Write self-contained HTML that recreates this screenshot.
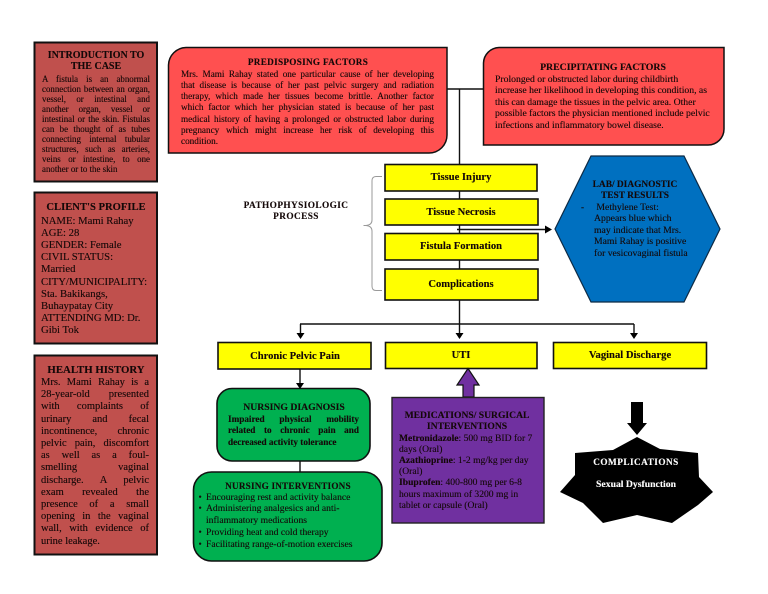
<!DOCTYPE html>
<html><head><meta charset="utf-8"><style>
html,body{margin:0;padding:0;background:#fff}
#p{position:relative;width:768px;height:594px;overflow:hidden;font-family:"Liberation Serif",serif;color:#140808;filter:blur(.35px)}
svg{position:absolute;left:0;top:0}
#t{position:absolute;left:0;top:1px;width:768px;height:594px;-webkit-text-stroke:.12px currentColor}
.b{position:absolute;font-size:9.2px}
.b div{white-space:nowrap}
.b div.j{white-space:normal;text-align:justify;text-align-last:justify}
.c{position:absolute;text-align:center;font-weight:bold;white-space:nowrap;transform:translateX(-50%);line-height:12px}
.y{font-size:10.6px}
</style></head><body><div id="p">
<svg width="768" height="594" fill="none" stroke="#000">
<g stroke="#111" stroke-width="1.5">
<rect x="34.5" y="42.5" width="122.5" height="139" fill="#C0504D" stroke-width="2"/>
<rect x="34.5" y="192.5" width="122.5" height="151" fill="#C0504D" stroke-width="2"/>
<rect x="34.5" y="355.5" width="122.5" height="199" fill="#C0504D" stroke-width="2"/>
<path d="M186 47.5H447V135A18 18 0 0 1 429 153H168.500V65A18 18 0 0 1 186 47.5Z" fill="#FF5050"/>
<path d="M499 47.500H724V129A16 16 0 0 1 708 145H483.500V63A16 16 0 0 1 499 47.500Z" fill="#FF5050"/>
</g>
<g stroke="#111" stroke-width="1.4">
<path d="M447 89H483M459.500 89V338M300 324H634M300.500 324V336M634 324V336M457 229.500H549M300 369V386"/>
<path d="M300 461V472"/>
</g>
<path d="M459.500 339l-4-6h8zM300.500 339l-4-6h8zM634 339l-4-6h8zM300 389l-4-6h8zM552 229.500l-7-4v8z" fill="#000" stroke="none"/>
<path d="M382 176.500H376Q372 176.500 372 181V220Q372 225 366 225.500H363.500M366 225.500Q372 226 372 231V286Q372 290.500 376 290.500H382" stroke="#999" stroke-width="1"/>
<g fill="#FFFF00" stroke="#111" stroke-width="1.6">
<rect x="385" y="164.500" width="152" height="26.500"/>
<rect x="385" y="199" width="153" height="26"/>
<rect x="385" y="233.500" width="153" height="26.500"/>
<rect x="385" y="269" width="153" height="31"/>
<rect x="218" y="342.500" width="153" height="26.500"/>
<rect x="385.500" y="342.500" width="151.500" height="26"/>
<rect x="553.500" y="342.500" width="153" height="26"/>
</g>
<path d="M591 156H684L720 229L684 302H591L555 229Z" fill="#0070C0" stroke="#0c2a45" stroke-width="1.200"/>
<rect x="217" y="388.500" width="153" height="72.500" rx="15" fill="#00B050" stroke="#111" stroke-width="1.600"/>
<rect x="193.500" y="472" width="188.500" height="89" rx="18" fill="#00B050" stroke="#111" stroke-width="1.600"/>
<path d="M468 368.500L479 385H474V397H463V385H457Z" fill="#7030A0" stroke="#111" stroke-width="1.200"/>
<rect x="392" y="397.500" width="152" height="125.500" fill="#7030A0" stroke="#222" stroke-width="1.400"/>
<path d="M631 402H643V423H647L637 435L627 423H631Z" fill="#000" stroke="none"/>
<path d="M637 437L660 449L698 453L699 477L713 492L698 505L672 523L637 515L603 523L583 503L560 492L575 475L575 453L613 450Z" fill="#000" stroke="none"/>
</svg>
<div id="t">
<div class="c" style="left:96px;top:48.500px;font-size:10px;line-height:11.5px">INTRODUCTION TO<br>THE CASE</div>
<div class="b" style="left:42px;top:73px;width:108px;line-height:10px;font-size:8.900px">
<div class="j">A fistula is an abnormal</div><div class="j">connection between an organ,</div><div class="j">vessel, or intestinal and</div><div class="j">another organ, vessel or</div><div class="j">intestinal or the skin. Fistulas</div><div class="j">can be thought of as tubes</div><div class="j">connecting internal tubular</div><div class="j">structures, such as arteries,</div><div class="j">veins or intestine, to one</div><div>another or to the skin</div></div>

<div class="c" style="left:96px;top:201px;font-size:10.600px">CLIENT'S PROFILE</div>
<div class="b" style="left:41px;top:213.500px;width:110px;line-height:12.200px;font-size:10.700px">
<div>NAME: Mami Rahay</div><div>AGE: 28</div><div>GENDER: Female</div><div>CIVIL STATUS:</div><div>Married</div><div>CITY/MUNICIPALITY:</div><div>Sta. Bakikangs,</div><div>Buhaypatay City</div><div>ATTENDING MD: Dr.</div><div>Gibi Tok</div></div>

<div class="c" style="left:96px;top:363px;font-size:10.800px">HEALTH HISTORY</div>
<div class="b" style="left:41px;top:376px;width:108px;line-height:12.200px;font-size:10.500px">
<div class="j">Mrs. Mami Rahay is a</div><div class="j">28-year-old presented</div><div class="j">with complaints of</div><div class="j">urinary and fecal</div><div class="j">incontinence, chronic</div><div class="j">pelvic pain, discomfort</div><div class="j">as well as a foul-</div><div class="j">smelling vaginal</div><div class="j">discharge. A pelvic</div><div class="j">exam revealed the</div><div class="j">presence of a small</div><div class="j">opening in the vaginal</div><div class="j">wall, with evidence of</div><div>urine leakage.</div></div>

<div class="c" style="left:308px;top:55px;font-size:9.200px;letter-spacing:.3px">PREDISPOSING FACTORS</div>
<div class="b" style="left:181px;top:67.500px;width:253px;line-height:11.300px">
<div class="j">Mrs. Mami Rahay stated one particular cause of her developing</div><div class="j">that disease is because of her past pelvic surgery and radiation</div><div class="j">therapy, which made her tissues become brittle. Another factor</div><div class="j">which factor which her physician stated is because of her past</div><div class="j">medical history of having a prolonged or obstructed labor during</div><div class="j">pregnancy which might increase her risk of developing this</div><div>condition.</div></div>

<div class="c" style="left:603px;top:61px;font-size:9.800px">PRECIPITATING FACTORS</div>
<div class="b" style="left:495px;top:72.500px;width:225px;line-height:11.500px;font-size:9.700px">
<div>Prolonged or obstructed labor during childbirth</div><div>increase her likelihood in developing this condition, as</div><div>this can damage the tissues in the pelvic area. Other</div><div>possible factors the physician mentioned include pelvic</div><div>infections and inflammatory bowel disease.</div></div>

<div class="c y" style="left:461px;top:171px">Tissue Injury</div>
<div class="c y" style="left:461px;top:206px">Tissue Necrosis</div>
<div class="c y" style="left:461px;top:240px">Fistula Formation</div>
<div class="c y" style="left:461px;top:278px">Complications</div>
<div class="c" style="left:296px;top:199.500px;font-size:9.300px;line-height:11.500px;letter-spacing:.4px">PATHOPHYSIOLOGIC<br>PROCESS</div>

<div class="c y" style="left:295px;top:349.500px">Chronic Pelvic Pain</div>
<div class="c y" style="left:461px;top:349px">UTI</div>
<div class="c y" style="left:630px;top:349px">Vaginal Discharge</div>

<div class="c" style="left:635px;top:178.500px;font-size:9.400px;line-height:11.300px">LAB/ DIAGNOSTIC<br>TEST RESULTS</div>
<div class="b" style="left:581px;top:200.500px;line-height:11.500px">-</div>
<div class="b" style="left:594px;top:200.500px;line-height:11.500px;font-size:9.700px">
<div>&nbsp;Methylene Test:</div><div>Appears blue which</div><div>may indicate that Mrs.</div><div>Mami Rahay is positive</div><div>for vesicovaginal fistula</div></div>

<div class="c" style="left:294px;top:400.500px;font-size:9.700px">NURSING DIAGNOSIS</div>
<div class="b" style="left:228px;top:412.500px;width:131px;line-height:11.600px;font-size:9.200px;font-weight:bold">
<div class="j">Impaired physical mobility</div><div class="j">related to chronic pain and</div><div>decreased activity tolerance</div></div>

<div class="c" style="left:288px;top:478.500px;font-size:9.200px;letter-spacing:.2px">NURSING INTERVENTIONS</div>
<div class="b" style="left:198.500px;top:490.500px;line-height:11.800px">
<div>•</div><div>•</div><div>&nbsp;</div><div>•</div><div>•</div></div>
<div class="b" style="left:206px;top:490.500px;line-height:11.800px;font-size:9.600px">
<div>Encouraging rest and activity balance</div><div>Administering analgesics and anti-</div><div>inflammatory medications</div><div>Providing heat and cold therapy</div><div>Facilitating range-of-motion exercises</div></div>

<div class="c" style="left:467px;top:408.500px;font-size:9.600px;line-height:11.600px">MEDICATIONS/ SURGICAL<br>INTERVENTIONS</div>
<div class="b" style="left:399px;top:431.500px;width:140px;line-height:11.200px;font-size:9.600px">
<div><b>Metronidazole</b>: 500 mg BID for 7</div><div>days (Oral)</div><div><b>Azathioprine</b>: 1-2 mg/kg per day</div><div>(Oral)</div><div><b>Ibuprofen</b>: 400-800 mg per 6-8</div><div>hours maximum of 3200 mg in</div><div>tablet or capsule (Oral)</div></div>

<div class="c" style="left:636px;top:455px;font-size:9.200px;color:#fff;letter-spacing:.5px">COMPLICATIONS</div>
<div class="c" style="left:636px;top:478px;font-size:9.700px;color:#fff">Sexual Dysfunction</div>
</div>
</div></body></html>
